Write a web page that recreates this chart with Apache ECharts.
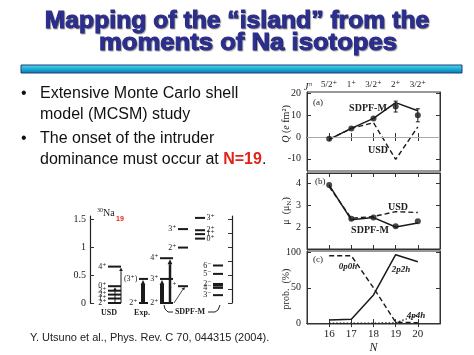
<!DOCTYPE html>
<html><head><meta charset="utf-8">
<script src="https://cdn.jsdelivr.net/npm/echarts@6/dist/echarts.min.js"></script>
<style>html,body{margin:0;padding:0;background:#fff;}#c{width:474px;height:355px;}</style>
</head><body><div id="c"></div>
<script>
// ---- data ----
const N = [16, 17, 18, 19, 20];
const jpiLabels = ['5/2+', '1+', '3/2+', '2+', '3/2+'];
const qTicks = [-10, 0, 10, 20];
const muTicks = [2, 3, 4];
const probTicks = [0, 50, 100];
const eTicks = [0, 0.5, 1, 1.5];
const eMinorTicks = [0, 0.25, 0.5, 0.75, 1, 1.25, 1.5];
const qSDPFM = [-1.1, 4, 8.6, 15.8, 12.1];
const qUSD = [-1.1, 4, 6.6, -10.3, 4.7];
const qExp = [-0.8, 3.9, 8.5, 14, 10];
const qExpErr = [0, 0, 0, 2.5, 3];
const muSDPFM = [3.93, 2.35, 2.45, 2.02, 2.2];
const muUSD = [3.85, 2.42, 2.5, 2.72, 2.68];
const muExp = [3.93, 2.4, 2.45, 2.06, 2.28];
const prob0p0h = [95.6, 95.6, 50, 1.3, 0.5];
const prob2p2h = [4.4, 5.3, 40, 97, 87];
const prob4p4h = [0, 0, 0, 0.5, 11.5];
// 30Na level scheme (MeV)
const usdJ = ['2+', '1+', '3+', '3+', '0+', '4+'];
const usdE = [0, 0.08, 0.15, 0.22, 0.3, 0.65];
const expJ = ['2+', '(3+)'];
const expE = [0, 0.43];
const sdpfAJ = ['2+', '3+', '4+'];
const sdpfAE = [0, 0.43, 0.8];
const sdpfBJ = ['1+', '2+', '3+'];
const sdpfBE = [0.3, 0.99, 1.32];
const sdpfCJ = ['0+', '1+', '2+', '3+'];
const sdpfCE = [1.15, 1.23, 1.3, 1.52];
const sdpfNegJ = ['3-', '4-', '', '2-', '5-', '6-'];
const sdpfNegE = [0.14, 0.27, 0.31, 0.34, 0.52, 0.67];
const usdTrans = [[0, 0.65], [0, 0.3]];
const expTrans = [[0, 0.43]];
const sdpfTrans = [[0, 0.43], [0, 0.8], [0, 0.3]];

// ---- helpers ----
const serif = '"Liberation Serif", "DejaVu Serif", serif';
const sans = '"Liberation Sans", Arial, sans-serif';
const ink = '#1a1a1a';
const sup = s => s.replace(/\+/g, '⁺').replace(/-/g, '⁻');
const pts = (ys) => N.map((n, i) => [n, ys[i]]);

function levelSeries(J, E, xr, side) {
  return {
    type: 'custom', xAxisIndex: 6, yAxisIndex: 6, silent: true, clip: false, z: 5,
    data: E.map((e, i) => [(xr[0] + xr[1]) / 2, e, i]),
    encode: { x: 0, y: 1 },
    renderItem(params, api) {
      const e = api.value(1), i = api.value(2);
      const a = api.coord([xr[0], e]), b = api.coord([xr[1], e]);
      const ch = [{ type: 'line', shape: { x1: a[0], y1: a[1], x2: b[0], y2: b[1] }, style: { stroke: ink, lineWidth: 2 } }];
      if (J[i]) {
        const left = side === 'left';
        ch.push({ type: 'text', style: { text: sup(J[i]), x: left ? a[0] - 1.5 : b[0] + 1.5, y: a[1],
          align: left ? 'right' : 'left', verticalAlign: 'middle', textAlign: left ? 'right' : 'left', textVerticalAlign: 'middle',
          font: '8px ' + serif, fill: '#222' } });
      }
      return { type: 'group', children: ch };
    }
  };
}
function arrowSeries(trans, layout) {
  return {
    type: 'custom', xAxisIndex: 6, yAxisIndex: 6, silent: true, clip: false, z: 4,
    data: trans.map((t, i) => [layout[i][1], t[1], i]),
    encode: { x: 0, y: 1 },
    renderItem(params, api) {
      const i = api.value(2), t = trans[i], L = layout[i];
      const p0 = api.coord([L[0], t[0]]), p1 = api.coord([L[1], t[1]]);
      const w = L[2], h = L[3];
      const dx = p1[0] - p0[0], dy = p1[1] - p0[1], len = Math.hypot(dx, dy);
      const ux = dx / len, uy = dy / len;
      const bx = p1[0] - ux * h * 1.5, by = p1[1] - uy * h * 1.5;
      const px = -uy, py = ux;
      return { type: 'group', children: [
        { type: 'line', shape: { x1: p0[0], y1: p0[1], x2: bx, y2: by }, style: { stroke: ink, lineWidth: w } },
        { type: 'polygon', shape: { points: [[p1[0], p1[1] + 1], [bx + px * h * 0.6, by + py * h * 0.6], [bx - px * h * 0.6, by - py * h * 0.6]] }, style: { fill: ink } }
      ] };
    }
  };
}
function lineS(xi, yi, data, type, w) {
  return { type: 'line', xAxisIndex: xi, yAxisIndex: yi, data, symbol: 'none', silent: true,
    lineStyle: { color: ink, width: w || 1.4, type: type || 'solid' }, z: 3, animation: false };
}
function expS(xi, yi, data) {
  return { type: 'scatter', xAxisIndex: xi, yAxisIndex: yi, data, symbol: 'circle', symbolSize: 6,
    itemStyle: { color: ink }, silent: true, z: 6 };
}
const tickStyle = { show: true, inside: true, length: 4, lineStyle: { color: '#333', width: 1 } };
const lineStyleAx = { show: true, lineStyle: { color: '#333', width: 1 } };
const lab = { fontFamily: serif, fontSize: 10, color: '#222' };

function xPair(grid, showBottom, topFmt) {
  return [
    { type: 'value', gridIndex: grid, position: 'bottom', min: 15, max: 21,
      axisLine: lineStyleAx, axisTick: Object.assign({ customValues: N }, tickStyle),
      axisLabel: { show: showBottom, customValues: N, margin: 5, fontSize: 11, fontFamily: serif, color: '#222' },
      splitLine: { show: false },
      name: showBottom ? 'N' : '', nameLocation: 'middle', nameGap: 18,
      nameTextStyle: { fontFamily: serif, fontStyle: 'italic', fontSize: 12, color: '#222' } },
    { type: 'value', gridIndex: grid, position: 'top', min: 15, max: 21,
      axisLine: lineStyleAx, axisTick: Object.assign({ customValues: N }, tickStyle),
      axisLabel: { show: !!topFmt, customValues: N, margin: 3, fontFamily: serif, fontSize: 9, color: '#222',
        formatter: v => topFmt ? sup(topFmt[N.indexOf(v)]) : '' },
      splitLine: { show: false } }
  ];
}
function yPair(grid, min, max, ticks) {
  return [
    { type: 'value', gridIndex: grid, position: 'left', min, max,
      axisLine: lineStyleAx, axisTick: Object.assign({ customValues: ticks }, tickStyle),
      axisLabel: Object.assign({ customValues: ticks, margin: 6 }, lab), splitLine: { show: false } },
    { type: 'value', gridIndex: grid, position: 'right', min, max,
      axisLine: lineStyleAx, axisTick: Object.assign({ customValues: ticks }, tickStyle),
      axisLabel: { show: false }, splitLine: { show: false } }
  ];
}

const chart = echarts.init(document.getElementById('c'), null, { renderer: 'canvas' });
const gridBase = { show: true, borderColor: '#333', borderWidth: 1, backgroundColor: 'transparent' };

const T = (x, y, text, font, fill, extra) => Object.assign({ type: 'text', x, y, silent: true,
  style: Object.assign({ text, font, fill: fill || '#222', textAlign: 'left', textVerticalAlign: 'middle', align: 'left', verticalAlign: 'middle' }, extra || {}) });
const titleStyle = { textAlign: 'center', align: 'center', stroke: '#2b2e8c', lineWidth: 1, textShadowColor: 'rgba(0,0,0,0.3)', textShadowOffsetX: 1, textShadowOffsetY: 1, textShadowBlur: 1 };

const option = {
  backgroundColor: '#fff',
  animation: false,
  grid: [
    Object.assign({ left: 307, top: 92, width: 133, height: 79 }, gridBase),
    Object.assign({ left: 307, top: 173, width: 133, height: 76 }, gridBase),
    Object.assign({ left: 307, top: 251, width: 133, height: 78 }, gridBase),
    { left: 90, top: 216, width: 142, height: 87, show: false }
  ],
  xAxis: [
    ...xPair(0, false, jpiLabels),
    ...xPair(1, false, null),
    ...xPair(2, true, null),
    { type: 'value', gridIndex: 3, min: 0, max: 142, show: false }
  ],
  yAxis: [
    ...yPair(0, -15.6, 20.7, qTicks),
    ...yPair(1, 1.02, 4.48, muTicks),
    ...yPair(2, -1.3, 102.3, probTicks),
    { type: 'value', gridIndex: 3, position: 'left', min: 0, max: 1.554,
      axisLine: { show: true, lineStyle: { color: '#222', width: 1.2 } },
      axisTick: Object.assign({ customValues: eTicks }, tickStyle),
      axisLabel: Object.assign({ customValues: eTicks, margin: 4, formatter: v => String(v) }, lab),
      splitLine: { show: false } },
    { type: 'value', gridIndex: 3, position: 'right', min: 0, max: 1.554,
      axisLine: { show: true, lineStyle: { color: '#222', width: 1.2 } },
      axisTick: Object.assign({ customValues: eMinorTicks }, tickStyle),
      axisLabel: { show: false }, splitLine: { show: false } }
  ],
  series: [
    // (a) quadrupole moments
    Object.assign(lineS(0, 0, pts(qSDPFM), 'solid', 1.5), {
      markLine: { silent: true, symbol: 'none', label: { show: false },
        lineStyle: { color: '#aaa', width: 1, type: 'solid' }, data: [{ yAxis: 0 }] } }),
    lineS(0, 0, pts(qUSD), [5, 3], 1.4),
    {
      type: 'custom', xAxisIndex: 0, yAxisIndex: 0, silent: true, z: 6,
      data: N.map((n, i) => [n, qExp[i], qExpErr[i]]),
      encode: { x: 0, y: 1 },
      renderItem(params, api) {
        const x = api.value(0), y = api.value(1), e = api.value(2);
        if (!e) return null;
        const a = api.coord([x, y - e]), b = api.coord([x, y + e]);
        return { type: 'group', children: [
          { type: 'line', shape: { x1: a[0], y1: a[1], x2: b[0], y2: b[1] }, style: { stroke: ink, lineWidth: 1 } },
          { type: 'line', shape: { x1: a[0] - 2, y1: a[1], x2: a[0] + 2, y2: a[1] }, style: { stroke: ink, lineWidth: 1 } },
          { type: 'line', shape: { x1: b[0] - 2, y1: b[1], x2: b[0] + 2, y2: b[1] }, style: { stroke: ink, lineWidth: 1 } }
        ] };
      }
    },
    expS(0, 0, pts(qExp)),
    // (b) magnetic moments
    lineS(2, 2, pts(muSDPFM), 'solid', 1.5),
    lineS(2, 2, pts(muUSD), [5, 3], 1.4),
    expS(2, 2, pts(muExp)),
    // (c) probabilities
    lineS(4, 4, pts(prob0p0h), [5, 3], 1.4),
    lineS(4, 4, pts(prob2p2h), 'solid', 1.5),
    lineS(4, 4, pts(prob4p4h), [1.5, 2], 1.2),
    // level scheme
    levelSeries(usdJ, usdE, [18, 31], 'left'),
    levelSeries(expJ, expE, [49, 58], 'left'),
    levelSeries(sdpfAJ, sdpfAE, [70, 83], 'left'),
    levelSeries(sdpfBJ, sdpfBE, [88, 98], 'left'),
    levelSeries(sdpfCJ, sdpfCE, [105, 115], 'right'),
    levelSeries(sdpfNegJ, sdpfNegE, [123, 133], 'left'),
    arrowSeries(usdTrans, [[31, 31, 1, 3], [25, 25, 1, 2.5]]),
    arrowSeries(expTrans, [[53, 53, 4, 4]]),
    arrowSeries(sdpfTrans, [[72, 72, 4, 4], [80, 80, 2.5, 4], [84, 95, 0.8, 2.5]])
  ],
  graphic: [
    // title
    Object.assign(T(237, 21, 'Mapping of the “island” from the', 'bold 24px ' + sans, '#2b2e8c', titleStyle), { scaleX: 1.03 }),
    Object.assign(T(248, 43, 'moments of Na isotopes', 'bold 24px ' + sans, '#2b2e8c', titleStyle), { scaleX: 1.07 }),
    { type: 'rect', silent: true, shape: { x: 21, y: 65, width: 441, height: 8 },
      style: { fill: new echarts.graphic.LinearGradient(0, 0, 0, 1, [
        { offset: 0, color: '#5fd8e8' }, { offset: 0.45, color: '#1fb3d4' }, { offset: 1, color: '#1070b4' }]),
        stroke: '#1d3f7e', lineWidth: 1 } },
    // bullets
    T(21, 94, '•', '16px ' + sans, '#111'),
    T(40, 94, 'Extensive Monte Carlo shell', '16px ' + sans, '#111'),
    T(40, 115, 'model (MCSM) study', '16px ' + sans, '#111'),
    T(21, 139, '•', '16px ' + sans, '#111'),
    T(40, 139, 'The onset of the intruder', '16px ' + sans, '#111'),
    T(40, 160, 'dominance must occur at {r|N=19}.', '16px ' + sans, '#111',
      { rich: { r: { fill: '#e2231a', color: '#e2231a', fontWeight: 'bold', fontSize: 16, fontFamily: sans } } }),
    T(30, 338, 'Y. Utsuno et al., Phys. Rev. C 70, 044315 (2004).', '11px ' + sans, '#222'),
    // right panel labels
    T(304, 87, 'J', 'italic 10px ' + serif),
    T(309, 84, 'π', '6px ' + serif),
    T(313, 103, '(a)', '9px ' + serif),
    T(315, 182, '(b)', '9px ' + serif),
    T(313, 260, '(c)', '9px ' + serif),
    T(368, 108, 'SDPF-M', 'bold 10px ' + serif, '#222', { textAlign: 'center', align: 'center' }),
    T(378, 150, 'USD', 'bold 10px ' + serif, '#222', { textAlign: 'center', align: 'center' }),
    T(398, 207, 'USD', 'bold 10px ' + serif, '#222', { textAlign: 'center', align: 'center' }),
    T(370, 230, 'SDPF-M', 'bold 10px ' + serif, '#222', { textAlign: 'center', align: 'center' }),
    T(348, 267, '0p0h', 'italic bold 9px ' + serif, '#222', { textAlign: 'center', align: 'center' }),
    T(401, 270, '2p2h', 'italic bold 9px ' + serif, '#222', { textAlign: 'center', align: 'center' }),
    T(416, 316, '4p4h', 'italic bold 9px ' + serif, '#222', { textAlign: 'center', align: 'center' }),
    // rotated axis titles
    { type: 'text', x: 286, y: 124, rotation: Math.PI / 2, silent: true,
      style: { text: '{i|Q} ({i|e} fm²)', font: '10px ' + serif, fill: '#222', textAlign: 'center', align: 'center', textVerticalAlign: 'middle', verticalAlign: 'middle',
        rich: { i: { fontStyle: 'italic', fontSize: 10, fontFamily: serif, fill: '#222' } } } },
    { type: 'text', x: 286, y: 211, rotation: Math.PI / 2, silent: true,
      style: { text: 'μ  (μ{s|N})', font: '10px ' + serif, fill: '#222', textAlign: 'center', align: 'center', textVerticalAlign: 'middle', verticalAlign: 'middle',
        rich: { s: { fontSize: 7, fontFamily: serif, fill: '#222', verticalAlign: 'bottom', padding: [6, 0, 0, 0] } } } },
    { type: 'text', x: 286, y: 289, rotation: Math.PI / 2, silent: true,
      style: { text: 'prob.  (%)', font: '10px ' + serif, fill: '#222', textAlign: 'center', align: 'center', textVerticalAlign: 'middle', verticalAlign: 'middle' } },
    // level scheme texts
    T(97, 210, '30', '6px ' + serif),
    T(103, 213, 'Na', '10px ' + serif),
    T(116, 219, '19', 'bold 7px ' + sans, '#e2231a'),
    T(109, 313, 'USD', 'bold 8px ' + serif, '#222', { textAlign: 'center', align: 'center' }),
    T(142, 313, 'Exp.', 'bold 8px ' + serif, '#222', { textAlign: 'center', align: 'center' }),
    T(190, 312, 'SDPF-M', 'bold 8px ' + serif, '#222', { textAlign: 'center', align: 'center' }),
    { type: 'polyline', silent: true, shape: { points: [[164, 305], [165, 309], [168, 312], [173, 312]] }, style: { stroke: '#222', lineWidth: 1, fill: null } },
    { type: 'polyline', silent: true, shape: { points: [[208, 312], [215, 312], [218, 310], [220, 305]] }, style: { stroke: '#222', lineWidth: 1, fill: null } }
  ]
};
chart.setOption(option);
</script>
</body></html>
